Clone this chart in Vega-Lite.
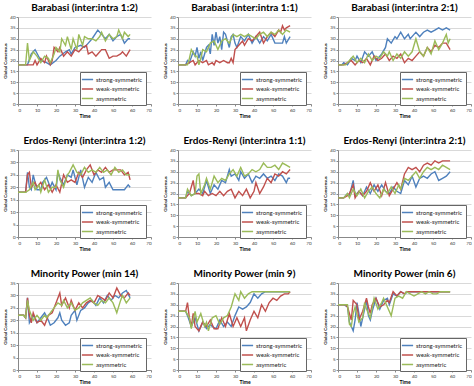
{
"$schema": "https://vega.github.io/schema/vega-lite/v6.json",
"padding": {"left": 2, "top": 3, "right": 0, "bottom": 0},
"background": "white",
"data": {"values": [
{"p":"B12","s":"strong-symmetric","t":[0,5,7,9,12,15,17,20,22,25,27,28,30,33,35,37,39,42,44,46,48,50,52,54,56,58,59],"v":[18,18,23,25,20,19,18,20,22,24,25,23,26,27,26,28,30,34,32,30,32,29,31,32,28,30,30]},
{"p":"B12","s":"weak-symmetric","t":[0,8,9,10,12,14,15,17,18,19,21,22,24,26,28,30,32,34,36,37,39,41,42,44,46,48,50,52,54,55,57,59],"v":[18,18,20,18,21,19,22,18,20,26,24,26,22,24,22,25,24,26,27,23,24,22,23,25,25,21,22,22,23,24,22,25]},
{"p":"B12","s":"asymmetric","t":[0,4,5,6,8,10,12,14,16,17,19,20,22,23,25,26,28,29,31,32,34,35,37,39,41,43,44,46,48,50,52,53,55,56,58,59],"v":[18,18,28,20,24,22,19,22,21,19,23,26,24,30,27,31,25,30,25,32,27,31,30,30,29,31,33,29,32,30,31,34,30,33,31,32]},
{"p":"B11","s":"strong-symmetric","t":[0,4,5,6,8,9,10,11,12,13,15,16,17,18,19,20,21,22,23,24,25,27,28,29,30,31,33,35,37,39,41,43,45,47,49,51,53,55,56,57,59],"v":[18,18,20,19,24,22,26,21,24,20,26,27,23,32,27,33,28,31,25,33,32,26,31,32,28,26,31,29,32,28,31,28,31,29,32,28,28,28,31,28,31]},
{"p":"B11","s":"weak-symmetric","t":[0,4,6,8,9,11,13,15,16,18,19,20,22,24,26,27,28,29,30,32,34,35,37,39,41,43,45,47,49,51,53,54,55,56,57,59],"v":[18,18,19,20,18,20,19,20,18,19,18,20,19,20,19,19,21,19,25,27,29,27,30,29,31,33,28,31,33,31,34,33,36,34,35,36]},
{"p":"B11","s":"asymmetric","t":[0,5,6,7,9,10,11,12,13,15,17,19,21,23,25,27,29,31,33,35,37,39,41,43,45,47,49,51,53,55,57,59],"v":[18,18,21,25,22,22,18,21,25,24,28,29,25,29,30,28,32,31,32,31,32,31,30,32,33,31,33,32,34,32,34,33]},
{"p":"B21","s":"strong-symmetric","t":[0,2,3,5,7,9,10,12,14,16,18,20,22,23,25,26,28,30,31,33,35,37,38,40,41,43,45,47,49,51,53,55,57,59],"v":[18,18,19,18,21,20,22,19,24,22,24,20,22,23,26,30,28,31,30,33,30,32,30,32,33,31,33,34,33,34,35,34,35,34]},
{"p":"B21","s":"weak-symmetric","t":[0,3,5,7,9,11,13,15,17,19,21,23,25,27,29,31,33,35,37,39,41,43,45,47,49,51,53,55,57,59],"v":[18,18,19,20,18,20,19,21,18,22,20,21,23,20,22,21,23,19,21,20,22,24,22,26,24,27,26,28,28,25]},
{"p":"B21","s":"asymmetric","t":[0,4,6,8,10,12,14,16,18,20,22,24,26,27,29,31,33,35,37,39,41,43,45,47,49,51,53,55,57,58,59],"v":[18,18,20,22,19,21,19,23,20,22,21,24,22,24,20,23,21,24,22,24,30,24,22,26,23,29,25,28,32,28,30]},
{"p":"E12","s":"strong-symmetric","t":[0,4,5,6,7,8,10,12,13,15,17,18,20,21,22,24,26,28,29,31,33,35,37,39,41,43,45,46,48,50,52,54,56,58,59],"v":[18,18,26,20,19,25,19,19,22,24,20,22,19,26,24,21,25,24,27,21,27,20,24,22,26,23,24,20,22,19,19,19,19,21,20]},
{"p":"E12","s":"weak-symmetric","t":[0,4,5,6,7,9,10,12,14,16,18,20,22,24,26,28,30,32,34,36,38,40,42,44,46,48,50,52,54,56,58,59],"v":[18,18,25,26,20,22,20,22,19,21,18,21,18,25,22,23,22,26,24,27,29,25,27,26,28,26,27,27,27,25,26,23]},
{"p":"E12","s":"asymmetric","t":[0,4,6,8,9,11,12,14,16,18,20,21,22,24,26,27,29,31,33,35,37,39,41,43,45,47,49,51,53,55,57,59],"v":[18,18,19,22,19,21,18,23,18,20,20,27,23,20,25,26,29,26,25,28,26,27,26,28,26,27,25,28,26,27,25,25]},
{"p":"E11","s":"strong-symmetric","t":[0,4,5,7,9,11,13,15,17,19,21,23,25,27,28,30,32,33,35,37,39,41,43,45,47,49,51,53,55,57,58,59],"v":[18,18,21,19,20,22,20,26,20,24,22,26,25,31,28,29,26,30,27,29,25,28,27,29,27,28,26,29,28,25,27,27]},
{"p":"E11","s":"weak-symmetric","t":[0,4,6,8,9,11,13,14,16,18,20,22,24,26,28,30,32,34,36,38,40,41,43,45,47,49,51,53,55,57,59],"v":[18,18,20,26,20,20,19,21,19,20,19,21,19,21,22,18,21,19,22,18,21,25,20,23,27,25,29,28,30,29,31]},
{"p":"E11","s":"asymmetric","t":[0,4,5,7,9,10,11,12,14,15,17,19,21,23,25,27,29,31,33,35,37,39,41,43,45,47,49,51,53,55,57,59],"v":[18,18,22,19,20,28,29,20,24,27,22,28,25,27,26,29,31,28,32,28,29,31,30,31,34,32,32,33,31,34,33,32]},
{"p":"E21","s":"strong-symmetric","t":[0,3,5,6,8,9,11,13,15,17,19,21,23,25,27,29,31,33,35,37,39,41,43,45,47,49,51,53,55,57,59],"v":[18,18,20,19,26,19,21,19,23,20,24,21,24,21,20,23,21,20,26,24,28,23,27,28,27,29,30,26,27,28,30]},
{"p":"E21","s":"weak-symmetric","t":[0,3,5,6,8,9,11,13,15,17,19,21,23,25,27,29,31,33,35,37,39,41,43,45,47,49,51,53,55,57,59],"v":[18,18,19,20,24,18,21,19,21,25,21,24,19,25,19,22,25,22,29,32,31,32,30,33,34,33,35,34,35,35,35]},
{"p":"E21","s":"asymmetric","t":[0,3,5,6,8,10,12,14,16,18,20,22,24,26,28,30,32,33,35,37,39,41,43,45,47,49,51,53,55,57,59],"v":[18,18,20,18,22,19,22,18,21,23,20,18,22,20,23,20,24,22,27,26,28,30,27,30,32,31,32,31,33,32,31]},
{"p":"M14","s":"strong-symmetric","t":[0,3,4,5,6,8,10,12,14,16,17,19,21,22,23,25,27,28,30,31,33,35,37,39,41,43,45,47,49,51,53,55,57,59],"v":[22,22,21,29,19,22,19,21,23,20,18,19,21,23,20,18,19,22,24,20,24,25,27,28,26,29,27,30,28,30,29,31,32,29]},
{"p":"M14","s":"weak-symmetric","t":[0,3,4,5,6,7,8,10,12,14,16,18,20,22,23,25,27,28,30,32,34,36,38,40,42,44,46,48,50,52,54,56,58,59],"v":[22,22,21,29,22,19,23,19,20,18,22,23,27,31,26,29,25,28,24,27,25,27,28,27,30,29,28,31,29,33,30,29,31,30]},
{"p":"M14","s":"asymmetric","t":[0,3,4,5,6,8,10,12,14,15,17,19,21,23,24,26,28,30,32,34,36,38,40,42,44,46,48,50,52,54,55,57,59],"v":[22,22,21,28,24,20,22,20,22,21,23,25,27,26,28,25,27,24,25,27,28,29,27,26,28,27,29,27,23,28,30,27,29]},
{"p":"M9","s":"strong-symmetric","t":[0,4,5,7,9,11,13,15,17,18,20,22,24,26,28,30,32,34,36,38,40,42,44,46,59],"v":[27,27,25,20,24,18,22,19,21,20,19,23,20,22,20,25,29,28,29,31,35,33,35,36,36]},
{"p":"M9","s":"weak-symmetric","t":[0,4,5,6,7,8,9,11,13,15,17,19,21,23,25,27,29,31,33,35,36,38,40,42,44,46,48,50,52,54,56,58,59],"v":[27,27,31,24,20,26,20,18,22,20,23,19,19,24,20,26,20,24,20,24,18,23,27,24,30,27,31,33,32,34,35,35,36]},
{"p":"M9","s":"asymmetric","t":[0,4,6,7,9,10,12,14,15,16,18,20,22,24,26,28,30,32,33,35,37,39,59],"v":[27,27,24,19,27,22,26,20,22,18,24,25,21,24,25,29,35,32,36,33,35,36,36]},
{"p":"M6","s":"strong-symmetric","t":[0,3,5,6,7,8,9,10,11,12,13,15,16,17,18,20,22,24,26,27,29,31,33,35,37,59],"v":[30,30,29,22,20,18,23,31,26,20,24,32,25,23,27,33,28,32,33,30,35,34,36,35,36,36]},
{"p":"M6","s":"weak-symmetric","t":[0,4,5,6,7,8,10,11,13,15,16,17,18,20,22,24,26,27,29,31,33,35,36,59],"v":[30,30,29,26,23,32,30,23,27,33,29,26,30,33,29,30,32,31,36,34,36,35,36,36]},
{"p":"M6","s":"asymmetric","t":[0,5,6,7,8,9,11,13,14,15,17,19,21,23,24,26,28,30,32,34,36,38,40,42,44,46,48,50,52,54,59],"v":[30,30,21,20,26,29,22,24,31,28,24,33,28,31,33,29,25,33,34,33,36,35,34,35,36,35,36,35,35,36,36]}
]},
"columns": 3,
"spacing": {"row": 17, "column": 10},
"resolve": {"legend": {"color": "independent"}},
"concat": [
{"title": "Barabasi  (inter:intra 1:2)", "width": 133, "height": 87,
 "transform": [{"filter": "datum.p == 'B12'"}, {"flatten": ["t", "v"]}],
 "mark": {"type": "line", "strokeWidth": 1.4},
 "encoding": {
  "x": {"field": "t", "type": "quantitative", "scale": {"domain": [0, 70]}, "axis": {"values": [0,10,20,30,40,50,60,70], "title": "Time"}},
  "y": {"field": "v", "type": "quantitative", "scale": {"domain": [0, 40]}, "axis": {"values": [0,5,10,15,20,25,30,35,40], "title": "Global Consensus"}},
  "color": {"field": "s", "type": "nominal", "sort": ["strong-symmetric","weak-symmetric","asymmetric"], "scale": {"domain": ["strong-symmetric","weak-symmetric","asymmetric"], "range": ["#4F81BD","#C0504D","#9BBB59"]}, "legend": {"title": null}}}},
{"title": "Barabasi  (inter:intra 1:1)", "width": 133, "height": 87,
 "transform": [{"filter": "datum.p == 'B11'"}, {"flatten": ["t", "v"]}],
 "mark": {"type": "line", "strokeWidth": 1.4},
 "encoding": {
  "x": {"field": "t", "type": "quantitative", "scale": {"domain": [0, 70]}, "axis": {"values": [0,10,20,30,40,50,60,70], "title": "Time"}},
  "y": {"field": "v", "type": "quantitative", "scale": {"domain": [0, 40]}, "axis": {"values": [0,5,10,15,20,25,30,35,40], "title": "Global Consensus"}},
  "color": {"field": "s", "type": "nominal", "sort": ["strong-symmetric","weak-symmetric","asymmetric"], "scale": {"domain": ["strong-symmetric","weak-symmetric","asymmetric"], "range": ["#4F81BD","#C0504D","#9BBB59"]}, "legend": {"title": null}}}},
{"title": "Barabasi  (inter:intra 2:1)", "width": 133, "height": 87,
 "transform": [{"filter": "datum.p == 'B21'"}, {"flatten": ["t", "v"]}],
 "mark": {"type": "line", "strokeWidth": 1.4},
 "encoding": {
  "x": {"field": "t", "type": "quantitative", "scale": {"domain": [0, 70]}, "axis": {"values": [0,10,20,30,40,50,60,70], "title": "Time"}},
  "y": {"field": "v", "type": "quantitative", "scale": {"domain": [0, 40]}, "axis": {"values": [0,5,10,15,20,25,30,35,40], "title": "Global Consensus"}},
  "color": {"field": "s", "type": "nominal", "sort": ["strong-symmetric","weak-symmetric","asymmetric"], "scale": {"domain": ["strong-symmetric","weak-symmetric","asymmetric"], "range": ["#4F81BD","#C0504D","#9BBB59"]}, "legend": {"title": null}}}},
{"title": "Erdos-Renyi  (inter:intra 1:2)", "width": 133, "height": 87,
 "transform": [{"filter": "datum.p == 'E12'"}, {"flatten": ["t", "v"]}],
 "mark": {"type": "line", "strokeWidth": 1.4},
 "encoding": {
  "x": {"field": "t", "type": "quantitative", "scale": {"domain": [0, 70]}, "axis": {"values": [0,10,20,30,40,50,60,70], "title": "Time"}},
  "y": {"field": "v", "type": "quantitative", "scale": {"domain": [0, 35]}, "axis": {"values": [0,5,10,15,20,25,30,35], "title": "Global Consensus"}},
  "color": {"field": "s", "type": "nominal", "sort": ["strong-symmetric","weak-symmetric","asymmetric"], "scale": {"domain": ["strong-symmetric","weak-symmetric","asymmetric"], "range": ["#4F81BD","#C0504D","#9BBB59"]}, "legend": {"title": null}}}},
{"title": "Erdos-Renyi  (inter:intra 1:1)", "width": 133, "height": 87,
 "transform": [{"filter": "datum.p == 'E11'"}, {"flatten": ["t", "v"]}],
 "mark": {"type": "line", "strokeWidth": 1.4},
 "encoding": {
  "x": {"field": "t", "type": "quantitative", "scale": {"domain": [0, 70]}, "axis": {"values": [0,10,20,30,40,50,60,70], "title": "Time"}},
  "y": {"field": "v", "type": "quantitative", "scale": {"domain": [0, 40]}, "axis": {"values": [0,5,10,15,20,25,30,35,40], "title": "Global Consensus"}},
  "color": {"field": "s", "type": "nominal", "sort": ["strong-symmetric","weak-symmetric","asymmetric"], "scale": {"domain": ["strong-symmetric","weak-symmetric","asymmetric"], "range": ["#4F81BD","#C0504D","#9BBB59"]}, "legend": {"title": null}}}},
{"title": "Erdos-Renyi  (inter:intra 2:1)", "width": 133, "height": 87,
 "transform": [{"filter": "datum.p == 'E21'"}, {"flatten": ["t", "v"]}],
 "mark": {"type": "line", "strokeWidth": 1.4},
 "encoding": {
  "x": {"field": "t", "type": "quantitative", "scale": {"domain": [0, 70]}, "axis": {"values": [0,10,20,30,40,50,60,70], "title": "Time"}},
  "y": {"field": "v", "type": "quantitative", "scale": {"domain": [0, 40]}, "axis": {"values": [0,5,10,15,20,25,30,35,40], "title": "Global Consensus"}},
  "color": {"field": "s", "type": "nominal", "sort": ["strong-symmetric","weak-symmetric","asymmetric"], "scale": {"domain": ["strong-symmetric","weak-symmetric","asymmetric"], "range": ["#4F81BD","#C0504D","#9BBB59"]}, "legend": {"title": null}}}},
{"title": "Minority Power (min 14)", "width": 133, "height": 87,
 "transform": [{"filter": "datum.p == 'M14'"}, {"flatten": ["t", "v"]}],
 "mark": {"type": "line", "strokeWidth": 1.4},
 "encoding": {
  "x": {"field": "t", "type": "quantitative", "scale": {"domain": [0, 70]}, "axis": {"values": [0,10,20,30,40,50,60,70], "title": "Time"}},
  "y": {"field": "v", "type": "quantitative", "scale": {"domain": [0, 35]}, "axis": {"values": [0,5,10,15,20,25,30,35], "title": "Global Consensus"}},
  "color": {"field": "s", "type": "nominal", "sort": ["strong-symmetric","weak-symmetric","asymmetric"], "scale": {"domain": ["strong-symmetric","weak-symmetric","asymmetric"], "range": ["#4F81BD","#C0504D","#9BBB59"]}, "legend": {"title": null}}}},
{"title": "Minority Power (min 9)", "width": 133, "height": 87,
 "transform": [{"filter": "datum.p == 'M9'"}, {"flatten": ["t", "v"]}],
 "mark": {"type": "line", "strokeWidth": 1.4},
 "encoding": {
  "x": {"field": "t", "type": "quantitative", "scale": {"domain": [0, 70]}, "axis": {"values": [0,10,20,30,40,50,60,70], "title": "Time"}},
  "y": {"field": "v", "type": "quantitative", "scale": {"domain": [0, 40]}, "axis": {"values": [0,5,10,15,20,25,30,35,40], "title": "Global Consensus"}},
  "color": {"field": "s", "type": "nominal", "sort": ["strong-symmetric","weak-symmetric","asymmetric"], "scale": {"domain": ["strong-symmetric","weak-symmetric","asymmetric"], "range": ["#4F81BD","#C0504D","#9BBB59"]}, "legend": {"title": null}}}},
{"title": "Minority Power (min 6)", "width": 133, "height": 87,
 "transform": [{"filter": "datum.p == 'M6'"}, {"flatten": ["t", "v"]}],
 "mark": {"type": "line", "strokeWidth": 1.4},
 "encoding": {
  "x": {"field": "t", "type": "quantitative", "scale": {"domain": [0, 70]}, "axis": {"values": [0,10,20,30,40,50,60,70], "title": "Time"}},
  "y": {"field": "v", "type": "quantitative", "scale": {"domain": [0, 40]}, "axis": {"values": [0,5,10,15,20,25,30,35,40], "title": "Global Consensus"}},
  "color": {"field": "s", "type": "nominal", "sort": ["strong-symmetric","weak-symmetric","asymmetric"], "scale": {"domain": ["strong-symmetric","weak-symmetric","asymmetric"], "range": ["#4F81BD","#C0504D","#9BBB59"]}, "legend": {"title": null}}}}
],
"config": {
 "font": "Lato",
 "view": {"stroke": null},
 "title": {"fontSize": 10, "fontWeight": "bold", "color": "#000", "offset": 1, "font": "Lato"},
 "axis": {"labelFontSize": 4.5, "labelColor": "#333", "titleFontSize": 4.5, "titleFontWeight": "bold", "titleColor": "#000", "domainColor": "#888", "tickColor": "#888", "tickSize": 2, "labelPadding": 1, "titlePadding": 2, "grid": false},
 "axisY": {"grid": true, "gridColor": "#c8c8c8", "gridWidth": 0.7},
 "axisX": {"titleFontSize": 5},
 "legend": {"orient": "none", "legendX": 62, "legendY": 55, "strokeColor": "#666", "fillColor": "white", "padding": 3, "labelFontSize": 6, "labelColor": "#222", "symbolType": "M-1.5,0H1.5", "symbolSize": 56, "symbolStrokeWidth": 1.5, "rowPadding": 1.5, "labelLimit": 80, "labelOffset": 4}
}
}
